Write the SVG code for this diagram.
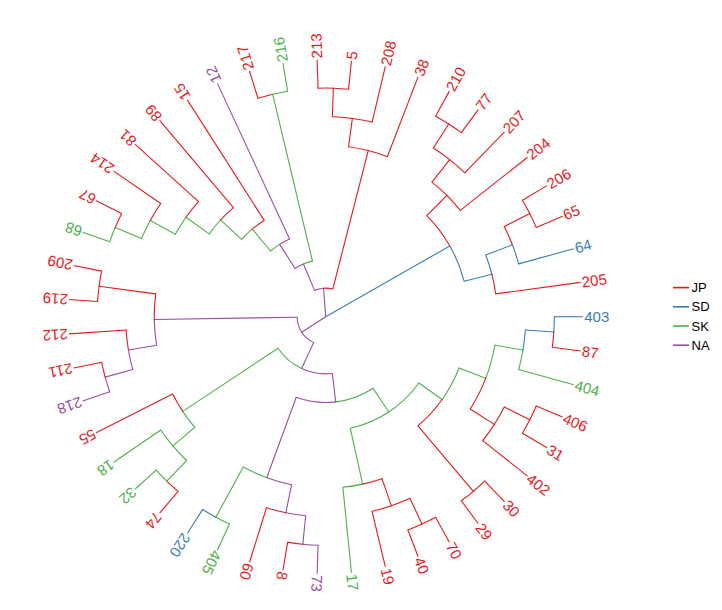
<svg xmlns="http://www.w3.org/2000/svg" width="722" height="610" viewBox="0 0 722 610">
<style>
circle, line { fill: none; stroke-width: 1.1; }
circle { stroke-linecap: square; }
.JP { stroke: #E41A1C; }
.SD { stroke: #377EB8; }
.SK { stroke: #4DAF4A; }
.NA { stroke: #984EA3; }
svg text { font-family: "Liberation Sans", Arial, sans-serif; font-size: 15px; stroke: none; }
#tips text.JP { fill: #E41A1C; stroke: none; }
#tips text.SD { fill: #377EB8; stroke: none; }
#tips text.SK { fill: #4DAF4A; stroke: none; }
#tips text.NA { fill: #984EA3; stroke: none; }
#legend text { fill: #000; font-size: 13px; stroke: none; }
#legend line { stroke-width: 1.6; }
</style>
<rect width="722" height="610" fill="#ffffff"/>
<g transform="translate(325.7,316.7)">
<g id="connectors">
<g class="NA"><line x1="0" x2="28.58" transform="rotate(265.7213)"/></g>
<g class="SD"><line x1="0" x2="142.9" transform="rotate(330.3191)"/></g>
<g class="NA"><line x1="0" x2="28.58" transform="rotate(146.9681)"/></g>
<g class="NA"><circle r="28.58" pathLength="360" stroke-dasharray="32.0745 360" transform="rotate(114.8936)"/><line x1="28.58" x2="57.16" transform="rotate(114.8936)"/></g>
<g class="NA"><circle r="28.58" pathLength="360" stroke-dasharray="32.0745 360" transform="rotate(146.9681)"/><line x1="28.58" x2="171.48" transform="rotate(179.0426)"/></g>
<g class="NA"><circle r="57.16" pathLength="360" stroke-dasharray="31.5957 360" transform="rotate(83.2979)"/><line x1="57.16" x2="85.74" transform="rotate(83.2979)"/></g>
<g class="SK"><circle r="57.16" pathLength="360" stroke-dasharray="31.5958 360" transform="rotate(114.8936)"/><line x1="57.16" x2="171.48" transform="rotate(146.4894)"/></g>
<g class="SK"><circle r="85.74" pathLength="360" stroke-dasharray="26.8085 360" transform="rotate(56.4894)"/><line x1="85.74" x2="114.32" transform="rotate(56.4894)"/></g>
<g class="NA"><circle r="85.74" pathLength="360" stroke-dasharray="26.8085 360" transform="rotate(83.2979)"/><line x1="85.74" x2="171.48" transform="rotate(110.1064)"/></g>
<g class="SK"><circle r="114.32" pathLength="360" stroke-dasharray="21.0639 360" transform="rotate(35.4255)"/><line x1="114.32" x2="142.9" transform="rotate(35.4255)"/></g>
<g class="SK"><circle r="114.32" pathLength="360" stroke-dasharray="21.0638 360" transform="rotate(56.4894)"/><line x1="114.32" x2="171.48" transform="rotate(77.5532)"/></g>
<g class="SK"><circle r="142.9" pathLength="360" stroke-dasharray="14.3617 360" transform="rotate(21.0638)"/><line x1="142.9" x2="171.48" transform="rotate(21.0638)"/></g>
<g class="JP"><circle r="142.9" pathLength="360" stroke-dasharray="14.3617 360" transform="rotate(35.4255)"/><line x1="142.9" x2="228.64" transform="rotate(49.7872)"/></g>
<g class="SK"><circle r="171.48" pathLength="360" stroke-dasharray="11.4893 360" transform="rotate(9.5745)"/><line x1="171.48" x2="200.06" transform="rotate(9.5745)"/></g>
<g class="JP"><circle r="171.48" pathLength="360" stroke-dasharray="11.4894 360" transform="rotate(21.0638)"/><line x1="171.48" x2="200.06" transform="rotate(32.5532)"/></g>
<g class="SD"><circle r="200.06" pathLength="360" stroke-dasharray="5.7447 360" transform="rotate(3.8298)"/><line x1="200.06" x2="228.64" transform="rotate(3.8298)"/></g>
<g class="SK"><circle r="200.06" pathLength="360" stroke-dasharray="5.7446 360" transform="rotate(9.5745)"/><line x1="200.06" x2="257.22" transform="rotate(15.3191)"/></g>
<g class="SD"><circle r="228.64" pathLength="360" stroke-dasharray="3.8298 360" transform="rotate(0)"/><line x1="228.64" x2="257.22" transform="rotate(0)"/></g>
<g class="JP"><circle r="228.64" pathLength="360" stroke-dasharray="3.8298 360" transform="rotate(3.8298)"/><line x1="228.64" x2="257.22" transform="rotate(7.6596)"/></g>
<g class="JP"><circle r="200.06" pathLength="360" stroke-dasharray="5.7447 360" transform="rotate(26.8085)"/><line x1="200.06" x2="228.64" transform="rotate(26.8085)"/></g>
<g class="JP"><circle r="200.06" pathLength="360" stroke-dasharray="5.7447 360" transform="rotate(32.5532)"/><line x1="200.06" x2="257.22" transform="rotate(38.2979)"/></g>
<g class="JP"><circle r="228.64" pathLength="360" stroke-dasharray="3.8298 360" transform="rotate(22.9787)"/><line x1="228.64" x2="257.22" transform="rotate(22.9787)"/></g>
<g class="JP"><circle r="228.64" pathLength="360" stroke-dasharray="3.8298 360" transform="rotate(26.8085)"/><line x1="228.64" x2="257.22" transform="rotate(30.6383)"/></g>
<g class="JP"><circle r="228.64" pathLength="360" stroke-dasharray="3.8298 360" transform="rotate(45.9574)"/><line x1="228.64" x2="257.22" transform="rotate(45.9574)"/></g>
<g class="JP"><circle r="228.64" pathLength="360" stroke-dasharray="3.8298 360" transform="rotate(49.7872)"/><line x1="228.64" x2="257.22" transform="rotate(53.6170)"/></g>
<g class="JP"><circle r="171.48" pathLength="360" stroke-dasharray="6.7021 360" transform="rotate(70.8511)"/><line x1="171.48" x2="200.06" transform="rotate(70.8511)"/></g>
<g class="SK"><circle r="171.48" pathLength="360" stroke-dasharray="6.7021 360" transform="rotate(77.5532)"/><line x1="171.48" x2="257.22" transform="rotate(84.2553)"/></g>
<g class="JP"><circle r="200.06" pathLength="360" stroke-dasharray="5.7447 360" transform="rotate(65.1064)"/><line x1="200.06" x2="228.64" transform="rotate(65.1064)"/></g>
<g class="JP"><circle r="200.06" pathLength="360" stroke-dasharray="5.7446 360" transform="rotate(70.8511)"/><line x1="200.06" x2="257.22" transform="rotate(76.5957)"/></g>
<g class="JP"><circle r="228.64" pathLength="360" stroke-dasharray="3.8298 360" transform="rotate(61.2766)"/><line x1="228.64" x2="257.22" transform="rotate(61.2766)"/></g>
<g class="JP"><circle r="228.64" pathLength="360" stroke-dasharray="3.8298 360" transform="rotate(65.1064)"/><line x1="228.64" x2="257.22" transform="rotate(68.9362)"/></g>
<g class="NA"><circle r="171.48" pathLength="360" stroke-dasharray="8.617 360" transform="rotate(101.4894)"/><line x1="171.48" x2="200.06" transform="rotate(101.4894)"/></g>
<g class="SK"><circle r="171.48" pathLength="360" stroke-dasharray="8.617 360" transform="rotate(110.1064)"/><line x1="171.48" x2="228.64" transform="rotate(118.7234)"/></g>
<g class="NA"><circle r="200.06" pathLength="360" stroke-dasharray="5.7447 360" transform="rotate(95.7447)"/><line x1="200.06" x2="228.64" transform="rotate(95.7447)"/></g>
<g class="JP"><circle r="200.06" pathLength="360" stroke-dasharray="5.7446 360" transform="rotate(101.4894)"/><line x1="200.06" x2="257.22" transform="rotate(107.2340)"/></g>
<g class="NA"><circle r="228.64" pathLength="360" stroke-dasharray="3.8298 360" transform="rotate(91.9149)"/><line x1="228.64" x2="257.22" transform="rotate(91.9149)"/></g>
<g class="JP"><circle r="228.64" pathLength="360" stroke-dasharray="3.8298 360" transform="rotate(95.7447)"/><line x1="228.64" x2="257.22" transform="rotate(99.5745)"/></g>
<g class="SK"><circle r="228.64" pathLength="360" stroke-dasharray="3.8298 360" transform="rotate(114.8936)"/><line x1="228.64" x2="257.22" transform="rotate(114.8936)"/></g>
<g class="SD"><circle r="228.64" pathLength="360" stroke-dasharray="3.8298 360" transform="rotate(118.7234)"/><line x1="228.64" x2="257.22" transform="rotate(122.5532)"/></g>
<g class="SK"><circle r="171.48" pathLength="360" stroke-dasharray="6.7022 360" transform="rotate(139.7872)"/><line x1="171.48" x2="200.06" transform="rotate(139.7872)"/></g>
<g class="JP"><circle r="171.48" pathLength="360" stroke-dasharray="6.7021 360" transform="rotate(146.4894)"/><line x1="171.48" x2="257.22" transform="rotate(153.1915)"/></g>
<g class="SK"><circle r="200.06" pathLength="360" stroke-dasharray="5.7446 360" transform="rotate(134.0426)"/><line x1="200.06" x2="228.64" transform="rotate(134.0426)"/></g>
<g class="SK"><circle r="200.06" pathLength="360" stroke-dasharray="5.7447 360" transform="rotate(139.7872)"/><line x1="200.06" x2="257.22" transform="rotate(145.5319)"/></g>
<g class="JP"><circle r="228.64" pathLength="360" stroke-dasharray="3.8298 360" transform="rotate(130.2128)"/><line x1="228.64" x2="257.22" transform="rotate(130.2128)"/></g>
<g class="SK"><circle r="228.64" pathLength="360" stroke-dasharray="3.8297 360" transform="rotate(134.0426)"/><line x1="228.64" x2="257.22" transform="rotate(137.8723)"/></g>
<g class="NA"><circle r="171.48" pathLength="360" stroke-dasharray="8.6171 360" transform="rotate(170.4255)"/><line x1="171.48" x2="200.06" transform="rotate(170.4255)"/></g>
<g class="JP"><circle r="171.48" pathLength="360" stroke-dasharray="8.617 360" transform="rotate(179.0426)"/><line x1="171.48" x2="228.64" transform="rotate(187.6596)"/></g>
<g class="NA"><circle r="200.06" pathLength="360" stroke-dasharray="5.7446 360" transform="rotate(164.6809)"/><line x1="200.06" x2="228.64" transform="rotate(164.6809)"/></g>
<g class="JP"><circle r="200.06" pathLength="360" stroke-dasharray="5.7447 360" transform="rotate(170.4255)"/><line x1="200.06" x2="257.22" transform="rotate(176.1702)"/></g>
<g class="NA"><circle r="228.64" pathLength="360" stroke-dasharray="3.8298 360" transform="rotate(160.8511)"/><line x1="228.64" x2="257.22" transform="rotate(160.8511)"/></g>
<g class="JP"><circle r="228.64" pathLength="360" stroke-dasharray="3.8297 360" transform="rotate(164.6809)"/><line x1="228.64" x2="257.22" transform="rotate(168.5106)"/></g>
<g class="JP"><circle r="228.64" pathLength="360" stroke-dasharray="3.8298 360" transform="rotate(183.8298)"/><line x1="228.64" x2="257.22" transform="rotate(183.8298)"/></g>
<g class="JP"><circle r="228.64" pathLength="360" stroke-dasharray="3.8298 360" transform="rotate(187.6596)"/><line x1="228.64" x2="257.22" transform="rotate(191.4894)"/></g>
<g class="NA"><circle r="28.58" pathLength="360" stroke-dasharray="18.6401 360" transform="rotate(247.0812)"/><line x1="28.58" x2="57.16" transform="rotate(247.0812)"/></g>
<g class="JP"><circle r="28.58" pathLength="360" stroke-dasharray="18.6404 360" transform="rotate(265.7213)"/><line x1="28.58" x2="171.48" transform="rotate(284.3617)"/></g>
<g class="NA"><circle r="57.16" pathLength="360" stroke-dasharray="9.5147 360" transform="rotate(237.5665)"/><line x1="57.16" x2="85.74" transform="rotate(237.5665)"/></g>
<g class="SK"><circle r="57.16" pathLength="360" stroke-dasharray="9.5145 360" transform="rotate(247.0812)"/><line x1="57.16" x2="228.64" transform="rotate(256.5957)"/></g>
<g class="SK"><circle r="85.74" pathLength="360" stroke-dasharray="7.5399 360" transform="rotate(230.0266)"/><line x1="85.74" x2="114.32" transform="rotate(230.0266)"/></g>
<g class="NA"><circle r="85.74" pathLength="360" stroke-dasharray="7.5399 360" transform="rotate(237.5665)"/><line x1="85.74" x2="257.22" transform="rotate(245.1064)"/></g>
<g class="SK"><circle r="114.32" pathLength="360" stroke-dasharray="7.4202 360" transform="rotate(222.6064)"/><line x1="114.32" x2="142.9" transform="rotate(222.6064)"/></g>
<g class="JP"><circle r="114.32" pathLength="360" stroke-dasharray="7.4202 360" transform="rotate(230.0266)"/><line x1="114.32" x2="257.22" transform="rotate(237.4468)"/></g>
<g class="SK"><circle r="142.9" pathLength="360" stroke-dasharray="7.1809 360" transform="rotate(215.4255)"/><line x1="142.9" x2="171.48" transform="rotate(215.4255)"/></g>
<g class="JP"><circle r="142.9" pathLength="360" stroke-dasharray="7.1808 360" transform="rotate(222.6064)"/><line x1="142.9" x2="257.22" transform="rotate(229.7872)"/></g>
<g class="SK"><circle r="171.48" pathLength="360" stroke-dasharray="6.7021 360" transform="rotate(208.7234)"/><line x1="171.48" x2="200.06" transform="rotate(208.7234)"/></g>
<g class="JP"><circle r="171.48" pathLength="360" stroke-dasharray="6.7022 360" transform="rotate(215.4255)"/><line x1="171.48" x2="257.22" transform="rotate(222.1277)"/></g>
<g class="SK"><circle r="200.06" pathLength="360" stroke-dasharray="5.7447 360" transform="rotate(202.9787)"/><line x1="200.06" x2="228.64" transform="rotate(202.9787)"/></g>
<g class="JP"><circle r="200.06" pathLength="360" stroke-dasharray="5.7447 360" transform="rotate(208.7234)"/><line x1="200.06" x2="257.22" transform="rotate(214.4681)"/></g>
<g class="SK"><circle r="228.64" pathLength="360" stroke-dasharray="3.8298 360" transform="rotate(199.1489)"/><line x1="228.64" x2="257.22" transform="rotate(199.1489)"/></g>
<g class="JP"><circle r="228.64" pathLength="360" stroke-dasharray="3.8298 360" transform="rotate(202.9787)"/><line x1="228.64" x2="257.22" transform="rotate(206.8085)"/></g>
<g class="JP"><circle r="228.64" pathLength="360" stroke-dasharray="3.8297 360" transform="rotate(252.7660)"/><line x1="228.64" x2="257.22" transform="rotate(252.7660)"/></g>
<g class="SK"><circle r="228.64" pathLength="360" stroke-dasharray="3.8298 360" transform="rotate(256.5957)"/><line x1="228.64" x2="257.22" transform="rotate(260.4255)"/></g>
<g class="JP"><circle r="171.48" pathLength="360" stroke-dasharray="6.7021 360" transform="rotate(277.6596)"/><line x1="171.48" x2="200.06" transform="rotate(277.6596)"/></g>
<g class="JP"><circle r="171.48" pathLength="360" stroke-dasharray="6.7021 360" transform="rotate(284.3617)"/><line x1="171.48" x2="257.22" transform="rotate(291.0638)"/></g>
<g class="JP"><circle r="200.06" pathLength="360" stroke-dasharray="5.7447 360" transform="rotate(271.9149)"/><line x1="200.06" x2="228.64" transform="rotate(271.9149)"/></g>
<g class="JP"><circle r="200.06" pathLength="360" stroke-dasharray="5.7447 360" transform="rotate(277.6596)"/><line x1="200.06" x2="257.22" transform="rotate(283.4043)"/></g>
<g class="JP"><circle r="228.64" pathLength="360" stroke-dasharray="3.8298 360" transform="rotate(268.0851)"/><line x1="228.64" x2="257.22" transform="rotate(268.0851)"/></g>
<g class="JP"><circle r="228.64" pathLength="360" stroke-dasharray="3.8298 360" transform="rotate(271.9149)"/><line x1="228.64" x2="257.22" transform="rotate(275.7447)"/></g>
<g class="JP"><circle r="142.9" pathLength="360" stroke-dasharray="15.3191 360" transform="rotate(315)"/><line x1="142.9" x2="171.48" transform="rotate(315)"/></g>
<g class="SD"><circle r="142.9" pathLength="360" stroke-dasharray="15.3192 360" transform="rotate(330.3191)"/><line x1="142.9" x2="171.48" transform="rotate(345.6383)"/></g>
<g class="JP"><circle r="171.48" pathLength="360" stroke-dasharray="6.7021 360" transform="rotate(308.2979)"/><line x1="171.48" x2="200.06" transform="rotate(308.2979)"/></g>
<g class="JP"><circle r="171.48" pathLength="360" stroke-dasharray="6.7021 360" transform="rotate(315)"/><line x1="171.48" x2="257.22" transform="rotate(321.7021)"/></g>
<g class="JP"><circle r="200.06" pathLength="360" stroke-dasharray="5.7447 360" transform="rotate(302.5532)"/><line x1="200.06" x2="228.64" transform="rotate(302.5532)"/></g>
<g class="JP"><circle r="200.06" pathLength="360" stroke-dasharray="5.7447 360" transform="rotate(308.2979)"/><line x1="200.06" x2="257.22" transform="rotate(314.0426)"/></g>
<g class="JP"><circle r="228.64" pathLength="360" stroke-dasharray="3.8298 360" transform="rotate(298.7234)"/><line x1="228.64" x2="257.22" transform="rotate(298.7234)"/></g>
<g class="JP"><circle r="228.64" pathLength="360" stroke-dasharray="3.8298 360" transform="rotate(302.5532)"/><line x1="228.64" x2="257.22" transform="rotate(306.3830)"/></g>
<g class="SD"><circle r="171.48" pathLength="360" stroke-dasharray="6.7021 360" transform="rotate(338.9362)"/><line x1="171.48" x2="200.06" transform="rotate(338.9362)"/></g>
<g class="JP"><circle r="171.48" pathLength="360" stroke-dasharray="6.7021 360" transform="rotate(345.6383)"/><line x1="171.48" x2="257.22" transform="rotate(352.3404)"/></g>
<g class="JP"><circle r="200.06" pathLength="360" stroke-dasharray="5.7447 360" transform="rotate(333.1915)"/><line x1="200.06" x2="228.64" transform="rotate(333.1915)"/></g>
<g class="SD"><circle r="200.06" pathLength="360" stroke-dasharray="5.7447 360" transform="rotate(338.9362)"/><line x1="200.06" x2="257.22" transform="rotate(344.6809)"/></g>
<g class="JP"><circle r="228.64" pathLength="360" stroke-dasharray="3.8298 360" transform="rotate(329.3617)"/><line x1="228.64" x2="257.22" transform="rotate(329.3617)"/></g>
<g class="JP"><circle r="228.64" pathLength="360" stroke-dasharray="3.8298 360" transform="rotate(333.1915)"/><line x1="228.64" x2="257.22" transform="rotate(337.0213)"/></g>
</g>
<g id="tips">
<g id="tip-403"><text class="SD" x="258.5" dy="0.35em" transform="rotate(0)">403</text></g>
<g id="tip-87"><text class="JP" x="258.5" dy="0.35em" transform="rotate(7.6596)">87</text></g>
<g id="tip-404"><text class="SK" x="258.5" dy="0.35em" transform="rotate(15.3191)">404</text></g>
<g id="tip-406"><text class="JP" x="258.5" dy="0.35em" transform="rotate(22.9787)">406</text></g>
<g id="tip-31"><text class="JP" x="258.5" dy="0.35em" transform="rotate(30.6383)">31</text></g>
<g id="tip-402"><text class="JP" x="258.5" dy="0.35em" transform="rotate(38.2979)">402</text></g>
<g id="tip-30"><text class="JP" x="258.5" dy="0.35em" transform="rotate(45.9574)">30</text></g>
<g id="tip-29"><text class="JP" x="258.5" dy="0.35em" transform="rotate(53.6170)">29</text></g>
<g id="tip-70"><text class="JP" x="258.5" dy="0.35em" transform="rotate(61.2766)">70</text></g>
<g id="tip-40"><text class="JP" x="258.5" dy="0.35em" transform="rotate(68.9362)">40</text></g>
<g id="tip-19"><text class="JP" x="258.5" dy="0.35em" transform="rotate(76.5957)">19</text></g>
<g id="tip-17"><text class="SK" x="258.5" dy="0.35em" transform="rotate(84.2553)">17</text></g>
<g id="tip-73"><text class="NA" x="258.5" dy="0.35em" transform="rotate(91.9149)">73</text></g>
<g id="tip-8"><text class="JP" x="258.5" dy="0.35em" transform="rotate(99.5745)">8</text></g>
<g id="tip-60"><text class="JP" x="258.5" dy="0.35em" transform="rotate(107.2340)">60</text></g>
<g id="tip-405"><text class="SK" x="258.5" dy="0.35em" transform="rotate(114.8936)">405</text></g>
<g id="tip-220"><text class="SD" x="258.5" dy="0.35em" transform="rotate(122.5532)">220</text></g>
<g id="tip-74"><text class="JP" x="258.5" dy="0.35em" transform="rotate(130.2128)">74</text></g>
<g id="tip-32"><text class="SK" x="258.5" dy="0.35em" transform="rotate(137.8723)">32</text></g>
<g id="tip-18"><text class="SK" x="258.5" dy="0.35em" transform="rotate(145.5319)">18</text></g>
<g id="tip-55"><text class="JP" x="258.5" dy="0.35em" transform="rotate(153.1915)">55</text></g>
<g id="tip-218"><text class="NA" x="258.5" dy="0.35em" transform="rotate(160.8511)">218</text></g>
<g id="tip-211"><text class="JP" x="258.5" dy="0.35em" transform="rotate(168.5106)">211</text></g>
<g id="tip-212"><text class="JP" x="258.5" dy="0.35em" transform="rotate(176.1702)">212</text></g>
<g id="tip-219"><text class="JP" x="258.5" dy="0.35em" transform="rotate(183.8298)">219</text></g>
<g id="tip-209"><text class="JP" x="258.5" dy="0.35em" transform="rotate(191.4894)">209</text></g>
<g id="tip-68"><text class="SK" x="258.5" dy="0.35em" transform="rotate(199.1489)">68</text></g>
<g id="tip-67"><text class="JP" x="258.5" dy="0.35em" transform="rotate(206.8085)">67</text></g>
<g id="tip-214"><text class="JP" x="258.5" dy="0.35em" transform="rotate(214.4681)">214</text></g>
<g id="tip-81"><text class="JP" x="258.5" dy="0.35em" transform="rotate(222.1277)">81</text></g>
<g id="tip-89"><text class="JP" x="258.5" dy="0.35em" transform="rotate(229.7872)">89</text></g>
<g id="tip-15"><text class="JP" x="258.5" dy="0.35em" transform="rotate(237.4468)">15</text></g>
<g id="tip-12"><text class="NA" x="258.5" dy="0.35em" transform="rotate(245.1064)">12</text></g>
<g id="tip-217"><text class="JP" x="258.5" dy="0.35em" transform="rotate(252.7660)">217</text></g>
<g id="tip-216"><text class="SK" x="258.5" dy="0.35em" transform="rotate(260.4255)">216</text></g>
<g id="tip-213"><text class="JP" x="258.5" dy="0.35em" transform="rotate(268.0851)">213</text></g>
<g id="tip-5"><text class="JP" x="258.5" dy="0.35em" transform="rotate(275.7447)">5</text></g>
<g id="tip-208"><text class="JP" x="258.5" dy="0.35em" transform="rotate(283.4043)">208</text></g>
<g id="tip-38"><text class="JP" x="258.5" dy="0.35em" transform="rotate(291.0638)">38</text></g>
<g id="tip-210"><text class="JP" x="258.5" dy="0.35em" transform="rotate(298.7234)">210</text></g>
<g id="tip-77"><text class="JP" x="258.5" dy="0.35em" transform="rotate(306.3830)">77</text></g>
<g id="tip-207"><text class="JP" x="258.5" dy="0.35em" transform="rotate(314.0426)">207</text></g>
<g id="tip-204"><text class="JP" x="258.5" dy="0.35em" transform="rotate(321.7021)">204</text></g>
<g id="tip-206"><text class="JP" x="258.5" dy="0.35em" transform="rotate(329.3617)">206</text></g>
<g id="tip-65"><text class="JP" x="258.5" dy="0.35em" transform="rotate(337.0213)">65</text></g>
<g id="tip-64"><text class="SD" x="258.5" dy="0.35em" transform="rotate(344.6809)">64</text></g>
<g id="tip-205"><text class="JP" x="258.5" dy="0.35em" transform="rotate(352.3404)">205</text></g>
</g>
</g>
<g id="legend">
<g id="legend-JP"><line class="JP" x1="673" y1="287.6" x2="689" y2="287.6"/><text x="691.5" y="287.6" dy="0.35em">JP</text></g>
<g id="legend-SD"><line class="SD" x1="673" y1="306.8" x2="689" y2="306.8"/><text x="691.5" y="306.8" dy="0.35em">SD</text></g>
<g id="legend-SK"><line class="SK" x1="673" y1="326" x2="689" y2="326"/><text x="691.5" y="326" dy="0.35em">SK</text></g>
<g id="legend-NA"><line class="NA" x1="673" y1="345.2" x2="689" y2="345.2"/><text x="691.5" y="345.2" dy="0.35em">NA</text></g>
</g>
</svg>
